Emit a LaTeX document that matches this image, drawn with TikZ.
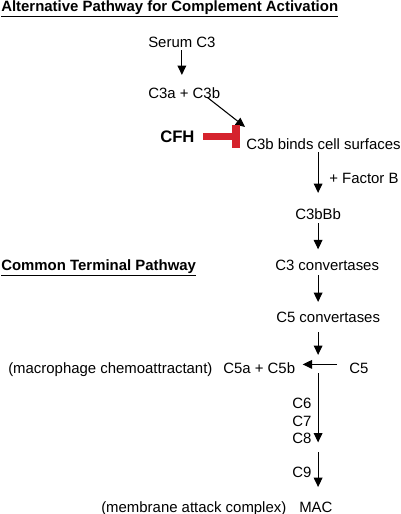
\documentclass[tikz,border=0pt]{standalone}
\usepackage{fontspec}
\setmainfont{Liberation Sans}
\usetikzlibrary{positioning,arrows.meta,calc}
\definecolor{cfhred}{RGB}{213,35,45}

\begin{document}
\begin{tikzpicture}[
    x=0.75pt, y=-0.75pt,
    txt/.style={inner sep=0pt, anchor=base west, font=\fontsize{11.2}{13}\selectfont},
    head/.style={txt, font=\fontsize{11.2}{13}\selectfont\bfseries},
    arr/.style={-{Triangle[length=7pt, width=6.5pt]}, line width=0.8pt},
    inhib/.style={-{Bar[width=17pt, line width=6pt]}, line width=5.5pt, draw=cfhred}
]
\useasboundingbox (0,0) rectangle (400,514);

% alternative pathway
\node[head] (title) at (1,11.5) {\underline{Alternative Pathway for Complement Activation}};
\node[txt] (serum) at (148,47) {Serum C3};
\node[txt] (c3ab) at (148,98) {C3a + C3b};
\node[txt, font=\fontsize{12.5}{14}\selectfont\bfseries] (cfh) at (160,142) {CFH};
\node[txt] (bind) at (246,149) {C3b binds cell surfaces};
\node[txt] (factor) at (329,183) {+ Factor B};
\node[txt] (c3bbb) at (295,219) {C3bBb};

% common terminal pathway
\node[head] (common) at (1,270) {\underline{Common Terminal Pathway}};
\node[txt] (c3conv) at (275,270) {C3 convertases};
\node[txt] (c5conv) at (276,322) {C5 convertases};
\node[txt] (chemo) at (8,373) {(macrophage chemoattractant)};
\node[txt] (c5ab) at (223,373) {C5a + C5b};
\node[txt] (c5) at (349,373) {C5};
\node[txt] (c6) at (292,408) {C6};
\node[txt] (c7) at (292,426) {C7};
\node[txt] (c8) at (292,443) {C8};
\node[txt] (c9) at (292,477) {C9};
\node[txt] (membrane) at (101,512) {(membrane attack complex)};
\node[txt] (mac) at (299,512) {MAC};

\draw[arr, shorten <=2.25pt, shorten >=9pt] (serum.south) -- (serum.south |- c3ab.north);
\draw[arr] ($(c3ab.south east)+(-13,-1)$) -- ($(bind.north west)+(-1,-11)$);
\draw[inhib, shorten <=6.5pt, shorten >=4.5pt] (cfh.east) -- (cfh.east -| bind.west);
\draw[arr, shorten <=2.25pt, shorten >=11.25pt] (c3bbb.north |- bind.south) -- (c3bbb.north);
\draw[arr, shorten <=3pt, shorten >=7.5pt] (c3bbb.south) -- (c3bbb.south |- c3conv.north);
\draw[arr, shorten <=3.75pt, shorten >=7pt] (c3bbb.south |- c3conv.south) -- (c3bbb.south |- c5conv.north);
\draw[arr, shorten <=7.5pt, shorten >=5.25pt] (c3bbb.south |- c5conv.south) -- (c3bbb.south |- c5ab.north);
\draw[arr, shorten <=9pt, shorten >=5.5pt] ([yshift=2.6pt]c5.west) -- ([yshift=2.6pt]c5.west -| c5ab.east);
\draw[arr, shorten >=0.75pt] (c3bbb.south |- c5ab.south) -- (c3bbb.south |- c8.south);
\draw[arr, shorten <=6.75pt, shorten >=10.7pt] (c3bbb.south |- c8.south) -- (c3bbb.south |- mac.north);
\end{tikzpicture}
\end{document}
